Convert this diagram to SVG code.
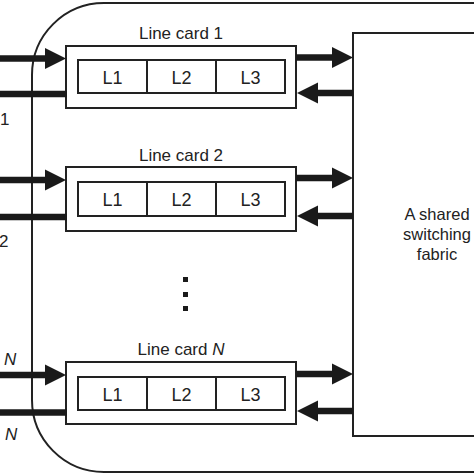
<svg xmlns="http://www.w3.org/2000/svg" width="474" height="474" viewBox="0 0 474 474">
<style>
.t{font-family:"Liberation Sans",Arial,sans-serif;font-size:17px;fill:#222}
.l{font-size:18px}
.f{font-size:16.5px}
.c{text-anchor:middle}
.box{fill:#fff;stroke:#222;stroke-width:2}
.ln{fill:none;stroke:#222;stroke-width:2}
.sh{stroke:#1a1a1a;stroke-width:6.5;fill:none}
.hd{fill:#1a1a1a}
</style>
<rect x="0" y="0" width="474" height="474" fill="#fff"/>
<path class="ln" d="M480,3 H104 A72,72 0 0 0 32,75 V400 A72,72 0 0 0 104,472 H480"/>
<g id="fabric">
<rect class="box" x="353" y="33" width="140" height="403"/>
<text class="t f c" x="437" y="220">A shared</text>
<text class="t f c" x="437" y="240">switching</text>
<text class="t f c" x="437" y="260">fabric</text>
</g>
<g id="card1">
<text class="t c" x="181" y="39">Line card 1</text>
<rect class="box" x="66" y="46" width="230" height="62"/>
<rect class="box" x="78" y="60" width="207" height="33"/>
<line class="ln" x1="147" y1="60" x2="147" y2="93"/>
<line class="ln" x1="216" y1="60" x2="216" y2="93"/>
<text class="t l c" x="112.5" y="84">L1</text>
<text class="t l c" x="181.5" y="84">L2</text>
<text class="t l c" x="250.5" y="84">L3</text>
</g>
<g id="card2">
<text class="t c" x="181" y="161">Line card 2</text>
<rect class="box" x="66" y="167" width="230" height="64"/>
<rect class="box" x="78" y="182" width="207" height="34"/>
<line class="ln" x1="147" y1="182" x2="147" y2="216"/>
<line class="ln" x1="216" y1="182" x2="216" y2="216"/>
<text class="t l c" x="112.5" y="206">L1</text>
<text class="t l c" x="181.5" y="206">L2</text>
<text class="t l c" x="250.5" y="206">L3</text>
</g>
<g id="cardN">
<text class="t c" x="181" y="355">Line card <tspan font-style="italic">N</tspan></text>
<rect class="box" x="66" y="362" width="230" height="62"/>
<rect class="box" x="78" y="377" width="207" height="33"/>
<line class="ln" x1="147" y1="377" x2="147" y2="410"/>
<line class="ln" x1="216" y1="377" x2="216" y2="410"/>
<text class="t l c" x="112.5" y="401">L1</text>
<text class="t l c" x="181.5" y="401">L2</text>
<text class="t l c" x="250.5" y="401">L3</text>
</g>
<g id="ellipsis">
<rect class="hd" x="183" y="277" width="5" height="5"/>
<rect class="hd" x="183" y="292" width="5" height="5"/>
<rect class="hd" x="183" y="306" width="5" height="5"/>
</g>
<g id="labels">
<text class="t" x="0" y="125">1</text>
<text class="t" x="-1" y="247">2</text>
<text class="t" x="4" y="365" font-style="italic">N</text>
<text class="t" x="5" y="440" font-style="italic">N</text>
</g>
<g id="connectors">
<line class="sh" x1="0" y1="58.5" x2="47" y2="58.5"/>
<polygon class="hd" points="45,48 66,58.5 45,69"/>
<line class="sh" x1="0" y1="94" x2="67" y2="94"/>
<line class="sh" x1="296" y1="57.5" x2="334" y2="57.5"/>
<polygon class="hd" points="332,47 353,57.5 332,68"/>
<line class="sh" x1="316" y1="93" x2="353" y2="93"/>
<polygon class="hd" points="318,82.5 297,93 318,103.5"/>

<line class="sh" x1="0" y1="180" x2="47" y2="180"/>
<polygon class="hd" points="45,169.5 66,180 45,190.5"/>
<line class="sh" x1="0" y1="217" x2="67" y2="217"/>
<line class="sh" x1="296" y1="178" x2="334" y2="178"/>
<polygon class="hd" points="332,167.5 353,178 332,188.5"/>
<line class="sh" x1="316" y1="216" x2="353" y2="216"/>
<polygon class="hd" points="318,205.5 297,216 318,226.5"/>

<line class="sh" x1="0" y1="375" x2="47" y2="375"/>
<polygon class="hd" points="45,364.5 66,375 45,385.5"/>
<line class="sh" x1="0" y1="412.5" x2="67" y2="412.5"/>
<line class="sh" x1="296" y1="374" x2="334" y2="374"/>
<polygon class="hd" points="332,363.5 353,374 332,384.5"/>
<line class="sh" x1="316" y1="411" x2="353" y2="411"/>
<polygon class="hd" points="318,400.5 297,411 318,421.5"/>
</g>
</svg>
